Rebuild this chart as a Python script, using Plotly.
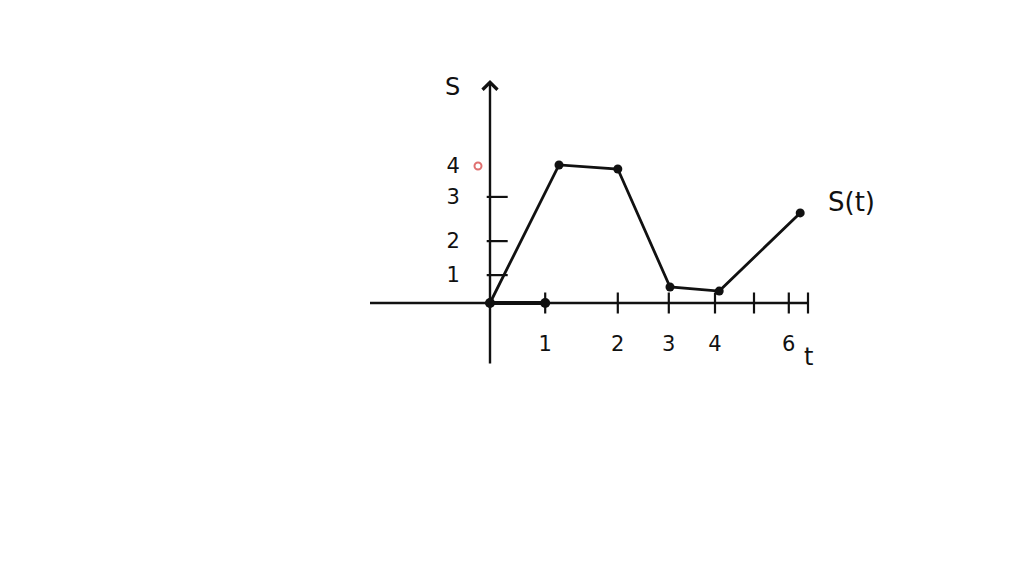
import plotly.graph_objects as go

# -----------------------------
# DATA
# -----------------------------
t_vals = [0, 1.15, 2.13, 3.0, 3.82, 5.17]
s_vals = [0, 4.06, 3.94, 0.47, 0.35, 2.65]

flat_t = [0, 0.92]
flat_s = [0, 0]

x_tick_vals = [0.92, 2.13, 2.98, 3.75, 4.4, 4.98, 5.3]
x_tick_text = ["1", "2", "3", "4", "", "6", ""]

y_tick_vals = [0.82, 1.82, 3.12, 4.03]
y_tick_text = ["1", "2", "3", "4"]

# sketch scale: px per unit and origin position (page has an 8px body margin)
PX_X, PX_Y = 60.0, 34.0
X0, Y0 = 490 - 8, 303 - 8
W, H = 1024, 576

x_range = [-X0 / PX_X, (W - X0) / PX_X]
y_range = [-(H - Y0) / PX_Y, Y0 / PX_Y]

INK = "#111111"
FONT = dict(family="DejaVu Sans", size=21, color=INK)

fig = go.Figure()

# thick segment along the axis from 0 to 1
fig.add_trace(go.Scatter(
    x=flat_t, y=flat_s, mode="lines+markers",
    line=dict(color=INK, width=4),
    marker=dict(color=INK, size=10),
    showlegend=False, hoverinfo="skip"
))

# S(t)
fig.add_trace(go.Scatter(
    x=t_vals, y=s_vals, mode="lines+markers",
    line=dict(color=INK, width=2.8),
    marker=dict(color=INK, size=9),
    name="S(t)", showlegend=False
))

# tick marks drawn across the axes
fig.add_trace(go.Scatter(
    x=x_tick_vals, y=[0] * len(x_tick_vals), mode="markers",
    marker=dict(symbol="line-ns-open", size=15, color=INK,
                line=dict(color=INK, width=2.2)),
    showlegend=False, hoverinfo="skip"
))
fig.add_trace(go.Scatter(
    x=[0.12] * 3, y=y_tick_vals[:3], mode="markers",
    marker=dict(symbol="line-ew-open", size=15, color=INK,
                line=dict(color=INK, width=2.2)),
    showlegend=False, hoverinfo="skip"
))
fig.add_trace(go.Scatter(
    x=[-0.2], y=y_tick_vals[3:], mode="markers",
    marker=dict(symbol="circle-open", size=7, color="#e07070",
                line=dict(color="#e07070", width=2)),
    showlegend=False, hoverinfo="skip"
))

# axis lines
fig.add_shape(type="line", x0=-2.0, y0=0, x1=5.3, y1=0,
              line=dict(color=INK, width=2.6), layer="below")
fig.add_annotation(x=0, y=6.56, ax=0, ay=-1.82, axref="x", ayref="y",
                   xref="x", yref="y", text="", showarrow=True,
                   arrowhead=4, arrowsize=1.2, arrowwidth=2.4, arrowcolor=INK)

# labels
fig.add_annotation(x=-0.63, y=6.35, text="S", showarrow=False,
                   font=dict(family="DejaVu Sans", size=24, color=INK))
fig.add_annotation(x=5.3, y=-1.6, text="t", showarrow=False,
                   font=dict(family="DejaVu Sans", size=24, color=INK))
fig.add_annotation(x=6.03, y=2.98, text="S(t)", showarrow=False,
                   font=dict(family="DejaVu Sans", size=26, color=INK))

fig.update_layout(
    width=W, height=H,
    margin=dict(l=0, r=0, t=0, b=0),
    paper_bgcolor="white", plot_bgcolor="white",
    xaxis=dict(
        range=x_range, showgrid=False, zeroline=False, showline=False,
        tickvals=x_tick_vals, ticktext=x_tick_text, tickfont=FONT,
        ticks="outside", ticklen=22, tickcolor="rgba(0,0,0,0)",
        anchor="free", position=(H - Y0) / H, fixedrange=True
    ),
    yaxis=dict(
        range=y_range, showgrid=False, zeroline=False, showline=False,
        tickvals=y_tick_vals, ticktext=y_tick_text, tickfont=FONT,
        ticks="outside", ticklen=26, tickcolor="rgba(0,0,0,0)",
        anchor="free", position=X0 / W, fixedrange=True
    ),
)

fig.write_html("out.html")
